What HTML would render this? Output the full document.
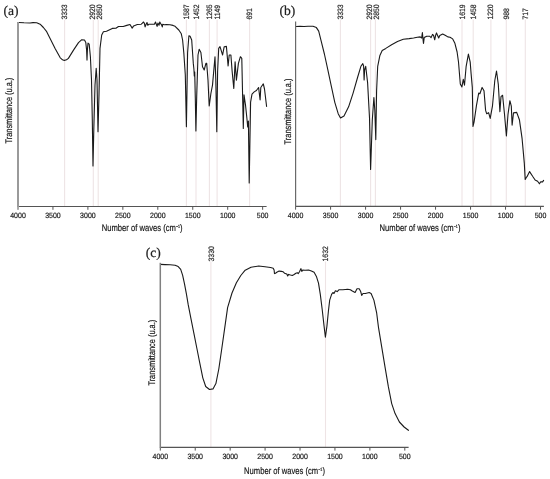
<!DOCTYPE html>
<html><head><meta charset="utf-8"><title>FTIR spectra</title>
<style>
html,body{margin:0;padding:0;background:#fff;}
body{width:550px;height:479px;overflow:hidden;}
svg text{stroke:#222;stroke-width:0.18px;}
svg{display:block;font-family:'Liberation Sans', Arial, Helvetica, sans-serif;filter:blur(0.25px);text-rendering:geometricPrecision;}
</style></head>
<body>
<svg width="550" height="479" viewBox="0 0 550 479">
<rect width="550" height="479" fill="#fff"/>
<line x1="64.6" y1="19.8" x2="64.6" y2="206.5" stroke="#eee4e5" stroke-width="1.1"/>
<line x1="93.3" y1="19.8" x2="93.3" y2="206.5" stroke="#eee4e5" stroke-width="1.1"/>
<line x1="98.2" y1="19.8" x2="98.2" y2="206.5" stroke="#eee4e5" stroke-width="1.1"/>
<line x1="186.4" y1="19.8" x2="186.4" y2="206.5" stroke="#eee4e5" stroke-width="1.1"/>
<line x1="196" y1="19.8" x2="196" y2="206.5" stroke="#eee4e5" stroke-width="1.1"/>
<line x1="209.4" y1="19.8" x2="209.4" y2="206.5" stroke="#eee4e5" stroke-width="1.1"/>
<line x1="217.1" y1="19.8" x2="217.1" y2="206.5" stroke="#eee4e5" stroke-width="1.1"/>
<line x1="249.6" y1="19.8" x2="249.6" y2="206.5" stroke="#eee4e5" stroke-width="1.1"/>
<g transform="translate(67.49 19.6) rotate(-90) scale(0.88 1)"><text font-size="7.8" fill="#1a1a1a">3333</text></g>
<g transform="translate(94.69 19.6) rotate(-90) scale(0.88 1)"><text font-size="7.8" fill="#1a1a1a">2920</text></g>
<g transform="translate(101.54 19.6) rotate(-90) scale(0.88 1)"><text font-size="7.8" fill="#1a1a1a">2850</text></g>
<g transform="translate(189.19 19.6) rotate(-90) scale(0.88 1)"><text font-size="7.8" fill="#1a1a1a">1587</text></g>
<g transform="translate(198.89 19.6) rotate(-90) scale(0.88 1)"><text font-size="7.8" fill="#1a1a1a">1452</text></g>
<g transform="translate(212.29 19.6) rotate(-90) scale(0.88 1)"><text font-size="7.8" fill="#1a1a1a">1265</text></g>
<g transform="translate(219.99 19.6) rotate(-90) scale(0.88 1)"><text font-size="7.8" fill="#1a1a1a">1149</text></g>
<g transform="translate(252.39 19.6) rotate(-90) scale(0.88 1)"><text font-size="7.8" fill="#1a1a1a">691</text></g>
<polyline points="18.7,22.5 24,22.8 30,23 33,22.6 36.7,22.8 40.1,24.2 43.4,27.5 46.7,31.7 50.1,38.4 55.1,48.4 60.1,57.6 62.5,59.8 64.3,60.4 66.5,59.8 68.4,58.4 73.5,50.1 78.5,42.6 81.8,39.7 84.5,40 85.8,42.6 86.6,50 87,60.1 87.4,50 88,43.1 89.2,44.2 90.4,56.8 91.5,80 92.3,120 93,166 93.8,130 95,85 96.2,68.4 97,80 98,131.8 99,95 100,48.4 101.7,35 103.4,31.7 106.5,31.3 112.3,28.4 115.9,28.2 118.5,26.5 123.2,26.5 126.8,25.4 130,24.5 132.2,28.1 133.6,25.9 137.3,24.5 141.3,24.2 142.4,23.1 143.5,22 144.4,23.4 145.1,26.9 146.1,24.2 147,22.5 147.8,25.3 148.9,24.2 150,24.3 154.4,24.2 155.5,22 156.3,24.2 157.1,26.4 157.9,23.1 159,25.3 159.8,22 160.6,23.6 161.5,24.7 162.3,26.9 162.8,24.2 164.2,24.7 166.4,24.5 170,24.8 173,25.4 175.1,26.3 178.8,30 181.3,33.8 182.6,40 183.8,52.6 185.3,75 186.4,126.8 187.6,52.6 188.9,35.7 190.1,36.3 191.7,40 193.3,63.4 193.9,69 194.3,76 194.7,72 195.3,98 195.9,131 196.7,96.8 198,55 199.2,49.2 200.9,52.5 202.5,66.7 204.2,70 205.9,63.4 206.7,63.4 208,80.1 209.2,106 210.9,93.5 212.5,85.1 215,56.7 215.8,80 216.8,131.8 217.6,71.8 218.7,48.4 220,46.7 222.6,55 224.2,46.7 226.4,46.4 228.1,65.9 229.2,55 230.9,55 232.1,70.9 233.8,88.5 235.1,61.7 236.4,80.1 238.4,63.4 240.4,56.7 241.8,58.4 243.3,128.5 244,94.8 245.5,105 246.9,118.2 247.7,127 248.4,121.1 249.2,183 250.6,102.1 252,94.1 254.2,91.9 256.4,90.5 258.6,87.5 260.1,100 260.8,87.5 262.3,85.3 263.3,83.9 264.5,89 266.6,106.5" fill="none" stroke="#1a1a1a" stroke-width="1.1" stroke-linejoin="round" stroke-linecap="round"/>
<line x1="18" y1="206.5" x2="266.6" y2="206.5" stroke="#555" stroke-width="1.2"/>
<line x1="18" y1="206.5" x2="18" y2="209.8" stroke="#555" stroke-width="1"/>
<g transform="translate(18 218.3) scale(0.92 1)"><text text-anchor="middle" font-size="7.6" fill="#111">4000</text></g>
<line x1="52.95" y1="206.5" x2="52.95" y2="209.8" stroke="#555" stroke-width="1"/>
<g transform="translate(52.95 218.3) scale(0.92 1)"><text text-anchor="middle" font-size="7.6" fill="#111">3500</text></g>
<line x1="87.9" y1="206.5" x2="87.9" y2="209.8" stroke="#555" stroke-width="1"/>
<g transform="translate(87.9 218.3) scale(0.92 1)"><text text-anchor="middle" font-size="7.6" fill="#111">3000</text></g>
<line x1="122.85" y1="206.5" x2="122.85" y2="209.8" stroke="#555" stroke-width="1"/>
<g transform="translate(122.85 218.3) scale(0.92 1)"><text text-anchor="middle" font-size="7.6" fill="#111">2500</text></g>
<line x1="157.8" y1="206.5" x2="157.8" y2="209.8" stroke="#555" stroke-width="1"/>
<g transform="translate(157.8 218.3) scale(0.92 1)"><text text-anchor="middle" font-size="7.6" fill="#111">2000</text></g>
<line x1="192.75" y1="206.5" x2="192.75" y2="209.8" stroke="#555" stroke-width="1"/>
<g transform="translate(192.75 218.3) scale(0.92 1)"><text text-anchor="middle" font-size="7.6" fill="#111">1500</text></g>
<line x1="227.7" y1="206.5" x2="227.7" y2="209.8" stroke="#555" stroke-width="1"/>
<g transform="translate(227.7 218.3) scale(0.92 1)"><text text-anchor="middle" font-size="7.6" fill="#111">1000</text></g>
<line x1="262.65" y1="206.5" x2="262.65" y2="209.8" stroke="#555" stroke-width="1"/>
<g transform="translate(262.65 218.3) scale(0.92 1)"><text text-anchor="middle" font-size="7.6" fill="#111">500</text></g>
<line x1="18" y1="22" x2="18" y2="207.1" stroke="#9a9a9a" stroke-width="2.0"/>
<g transform="translate(12.4 110.6) rotate(-90) scale(0.77 1)"><text text-anchor="middle" font-size="9.6" fill="#111">Transmittance (u.a.)</text></g>
<g transform="translate(142.2 231.3) scale(0.795 1)"><text text-anchor="middle" font-size="9.6" fill="#111">Number of waves (cm<tspan font-size="4.6" dy="-3.1">−1</tspan><tspan dy="3.1">)</tspan></text></g>
<text x="3.45" y="14.6" style="font-family:'Liberation Serif', 'Times New Roman', serif;font-size:13.6px" fill="#222">(a)</text>
<line x1="340.4" y1="19.5" x2="340.4" y2="206.4" stroke="#eee4e5" stroke-width="1.1"/>
<line x1="370.6" y1="19.5" x2="370.6" y2="206.4" stroke="#eee4e5" stroke-width="1.1"/>
<line x1="375.4" y1="19.5" x2="375.4" y2="206.4" stroke="#eee4e5" stroke-width="1.1"/>
<line x1="462" y1="19.5" x2="462" y2="206.4" stroke="#eee4e5" stroke-width="1.1"/>
<line x1="473.2" y1="19.5" x2="473.2" y2="206.4" stroke="#eee4e5" stroke-width="1.1"/>
<line x1="490.9" y1="19.5" x2="490.9" y2="206.4" stroke="#eee4e5" stroke-width="1.1"/>
<line x1="506.3" y1="19.5" x2="506.3" y2="206.4" stroke="#eee4e5" stroke-width="1.1"/>
<line x1="525.3" y1="19.5" x2="525.3" y2="206.4" stroke="#eee4e5" stroke-width="1.1"/>
<g transform="translate(343.09 19.6) rotate(-90) scale(0.88 1)"><text font-size="7.8" fill="#1a1a1a">3333</text></g>
<g transform="translate(372.39 19.6) rotate(-90) scale(0.88 1)"><text font-size="7.8" fill="#1a1a1a">2920</text></g>
<g transform="translate(379.19 19.6) rotate(-90) scale(0.88 1)"><text font-size="7.8" fill="#1a1a1a">2850</text></g>
<g transform="translate(464.79 19.6) rotate(-90) scale(0.88 1)"><text font-size="7.8" fill="#1a1a1a">1619</text></g>
<g transform="translate(476.49 19.6) rotate(-90) scale(0.88 1)"><text font-size="7.8" fill="#1a1a1a">1458</text></g>
<g transform="translate(493.19 19.6) rotate(-90) scale(0.88 1)"><text font-size="7.8" fill="#1a1a1a">1220</text></g>
<g transform="translate(509.49 19.6) rotate(-90) scale(0.88 1)"><text font-size="7.8" fill="#1a1a1a">988</text></g>
<g transform="translate(527.69 19.6) rotate(-90) scale(0.88 1)"><text font-size="7.8" fill="#1a1a1a">717</text></g>
<polyline points="296.2,26.5 300,26.4 304,26.5 308,26.2 313,26.3 316.4,27.6 318.7,31.1 321,40.3 324.4,54 327.9,70.1 331.3,86.2 334.8,102.3 338.2,113.7 340.5,117.9 344,116 348.6,106.8 353.1,93.1 357.7,77 360.9,66.3 362.8,63.6 363.6,66 364.1,79.9 364.6,70 365.7,66.3 367.6,82.6 369.5,117.8 370.6,169.4 372.3,120 373.9,97.5 374.8,110 375.8,139.6 376.6,90.7 377.7,66.3 379.9,55.4 382.2,50.5 385.8,48.4 391.6,44.7 397.5,41.5 403.3,39.2 409.1,38.6 413.6,38 417.3,37.3 420.2,36.9 421.6,38 422.4,32.5 422.9,38.4 423.5,43.5 424.2,37.6 426.7,36.2 429.6,36.2 431.1,37.6 432.5,34.4 433.6,35.5 434.7,39.8 435.8,34.7 436.5,32.9 437.6,35.5 438.7,38 439.8,35.5 442.7,34 445.6,35.5 447.8,36.9 450,37.3 452.7,38.9 454.9,43.3 457.1,52 458.5,62 460.3,84 461.9,86.9 463.3,79.4 464.5,85.1 466.1,66.7 468.4,54.1 470.2,62.1 471.1,73.6 472.3,87.4 473,126.4 474.1,121.8 476.4,105.8 478.7,93.1 479.9,93.8 482.1,87.4 484,90.8 485.6,110.4 486.7,113.8 488.6,112.7 490.2,118.4 492.5,105.8 494.8,80.5 496.5,71 498.3,84.4 499.9,111.6 501,96.6 502.6,95.3 504.5,114.3 506.4,136 508,114.3 509.9,100.7 511.3,106.1 512.1,125.1 513.5,112.9 516.7,112.4 519.4,119.7 522.1,138.7 524.3,163.1 525.2,179.4 526.3,177.5 527,176.7 529.6,171.6 532.6,176.3 535.1,180 537.6,181.3 539.4,183.8 540.7,181.9 542.6,181.9 543.6,180.4" fill="none" stroke="#1a1a1a" stroke-width="1.1" stroke-linejoin="round" stroke-linecap="round"/>
<line x1="295.6" y1="206.4" x2="543.9" y2="206.4" stroke="#555" stroke-width="1.2"/>
<line x1="295.6" y1="206.4" x2="295.6" y2="209.7" stroke="#555" stroke-width="1"/>
<g transform="translate(295.6 218.2) scale(0.92 1)"><text text-anchor="middle" font-size="7.6" fill="#111">4000</text></g>
<line x1="330.59" y1="206.4" x2="330.59" y2="209.7" stroke="#555" stroke-width="1"/>
<g transform="translate(330.59 218.2) scale(0.92 1)"><text text-anchor="middle" font-size="7.6" fill="#111">3500</text></g>
<line x1="365.58" y1="206.4" x2="365.58" y2="209.7" stroke="#555" stroke-width="1"/>
<g transform="translate(365.58 218.2) scale(0.92 1)"><text text-anchor="middle" font-size="7.6" fill="#111">3000</text></g>
<line x1="400.57" y1="206.4" x2="400.57" y2="209.7" stroke="#555" stroke-width="1"/>
<g transform="translate(400.57 218.2) scale(0.92 1)"><text text-anchor="middle" font-size="7.6" fill="#111">2500</text></g>
<line x1="435.56" y1="206.4" x2="435.56" y2="209.7" stroke="#555" stroke-width="1"/>
<g transform="translate(435.56 218.2) scale(0.92 1)"><text text-anchor="middle" font-size="7.6" fill="#111">2000</text></g>
<line x1="470.55" y1="206.4" x2="470.55" y2="209.7" stroke="#555" stroke-width="1"/>
<g transform="translate(470.55 218.2) scale(0.92 1)"><text text-anchor="middle" font-size="7.6" fill="#111">1500</text></g>
<line x1="505.54" y1="206.4" x2="505.54" y2="209.7" stroke="#555" stroke-width="1"/>
<g transform="translate(505.54 218.2) scale(0.92 1)"><text text-anchor="middle" font-size="7.6" fill="#111">1000</text></g>
<line x1="540.53" y1="206.4" x2="540.53" y2="209.7" stroke="#555" stroke-width="1"/>
<g transform="translate(540.53 218.2) scale(0.92 1)"><text text-anchor="middle" font-size="7.6" fill="#111">500</text></g>
<line x1="295.6" y1="21.5" x2="295.6" y2="207" stroke="#6a6a6a" stroke-width="1.2"/>
<g transform="translate(290.5 111.5) rotate(-90) scale(0.77 1)"><text text-anchor="middle" font-size="9.6" fill="#111">Transmittance (u.a.)</text></g>
<g transform="translate(420 231.3) scale(0.795 1)"><text text-anchor="middle" font-size="9.6" fill="#111">Number of waves (cm<tspan font-size="4.6" dy="-3.1">−1</tspan><tspan dy="3.1">)</tspan></text></g>
<text x="279.45" y="14.6" style="font-family:'Liberation Serif', 'Times New Roman', serif;font-size:13.6px" fill="#222">(b)</text>
<line x1="210.9" y1="261.5" x2="210.9" y2="447.3" stroke="#eee4e5" stroke-width="1.1"/>
<line x1="325.5" y1="261.5" x2="325.5" y2="447.3" stroke="#eee4e5" stroke-width="1.1"/>
<g transform="translate(213.99 261.5) rotate(-90) scale(0.88 1)"><text font-size="7.8" fill="#1a1a1a">3330</text></g>
<g transform="translate(328.39 261.5) rotate(-90) scale(0.88 1)"><text font-size="7.8" fill="#1a1a1a">1632</text></g>
<polyline points="160.7,264.4 165,264.6 170.1,264.8 175.1,265.2 178.2,266.6 180.7,269.4 182.6,275.1 184.5,283.8 186.4,293.9 188.2,304.7 191.1,319.3 194,333.9 196.9,348.5 199.8,363.2 202.8,377.8 205.7,386.5 209.5,389.5 213,388.9 215.9,383.6 218.8,369 221.8,348.5 224.7,328.1 227.6,307.6 232,293 236.4,282.8 240.8,275.5 245.2,270.2 251,267.3 258.7,266 265,266.8 270.5,267.5 273.2,268.2 274.1,270 274.5,273.6 275.5,273.2 276.8,272.3 279.1,271.1 281.4,271.4 283.2,271.8 284.5,273.2 286.8,274.1 287.7,275.9 288.6,274.4 290.5,275 292.3,275.5 294.1,274.5 295.9,273.2 297.3,272.7 298.2,273.6 299.5,271.8 300.9,268.6 301.8,271.4 302.7,270 305,270.2 308.6,270 311.4,270.9 314.1,272.3 316.4,276.4 318.5,283.2 320.3,294.4 322.2,309.5 324.1,326.4 325.4,337.3 326.9,326.4 328.4,311.3 329.7,300.1 331.6,294.4 332.9,292.5 334,293.5 335.4,290.7 337.2,291.6 339.1,289.7 342.9,289.7 347.6,289.2 350.4,289.7 352.3,291 355.1,292.5 357,288.8 359.2,288.8 360.7,291.6 361.7,295.4 363,293.5 365.4,293.5 369.2,292.5 371.1,293.5 373.9,300.1 376.7,313.2 378.4,326.8 381.7,346.8 385,366.8 388.4,386.9 391.7,403.6 395.1,413.6 399.4,422 404.1,427 408.4,430.3" fill="none" stroke="#1a1a1a" stroke-width="1.1" stroke-linejoin="round" stroke-linecap="round"/>
<line x1="160.3" y1="447.3" x2="408.6" y2="447.3" stroke="#555" stroke-width="1.2"/>
<line x1="160.3" y1="447.3" x2="160.3" y2="450.6" stroke="#555" stroke-width="1"/>
<g transform="translate(160.3 459.1) scale(0.92 1)"><text text-anchor="middle" font-size="7.6" fill="#111">4000</text></g>
<line x1="195.23" y1="447.3" x2="195.23" y2="450.6" stroke="#555" stroke-width="1"/>
<g transform="translate(195.23 459.1) scale(0.92 1)"><text text-anchor="middle" font-size="7.6" fill="#111">3500</text></g>
<line x1="230.16" y1="447.3" x2="230.16" y2="450.6" stroke="#555" stroke-width="1"/>
<g transform="translate(230.16 459.1) scale(0.92 1)"><text text-anchor="middle" font-size="7.6" fill="#111">3000</text></g>
<line x1="265.09" y1="447.3" x2="265.09" y2="450.6" stroke="#555" stroke-width="1"/>
<g transform="translate(265.09 459.1) scale(0.92 1)"><text text-anchor="middle" font-size="7.6" fill="#111">2500</text></g>
<line x1="300.02" y1="447.3" x2="300.02" y2="450.6" stroke="#555" stroke-width="1"/>
<g transform="translate(300.02 459.1) scale(0.92 1)"><text text-anchor="middle" font-size="7.6" fill="#111">2000</text></g>
<line x1="334.95" y1="447.3" x2="334.95" y2="450.6" stroke="#555" stroke-width="1"/>
<g transform="translate(334.95 459.1) scale(0.92 1)"><text text-anchor="middle" font-size="7.6" fill="#111">1500</text></g>
<line x1="369.88" y1="447.3" x2="369.88" y2="450.6" stroke="#555" stroke-width="1"/>
<g transform="translate(369.88 459.1) scale(0.92 1)"><text text-anchor="middle" font-size="7.6" fill="#111">1000</text></g>
<line x1="404.81" y1="447.3" x2="404.81" y2="450.6" stroke="#555" stroke-width="1"/>
<g transform="translate(404.81 459.1) scale(0.92 1)"><text text-anchor="middle" font-size="7.6" fill="#111">500</text></g>
<line x1="160.3" y1="262.8" x2="160.3" y2="447.9" stroke="#808080" stroke-width="1.5"/>
<g transform="translate(154.5 352.7) rotate(-90) scale(0.77 1)"><text text-anchor="middle" font-size="9.6" fill="#111">Transmittance (u.a.)</text></g>
<g transform="translate(284.5 474.2) scale(0.795 1)"><text text-anchor="middle" font-size="9.6" fill="#111">Number of waves (cm<tspan font-size="4.6" dy="-3.1">−1</tspan><tspan dy="3.1">)</tspan></text></g>
<text x="145.8" y="257.3" style="font-family:'Liberation Serif', 'Times New Roman', serif;font-size:13.6px" fill="#222">(c)</text>
</svg>
</body></html>
